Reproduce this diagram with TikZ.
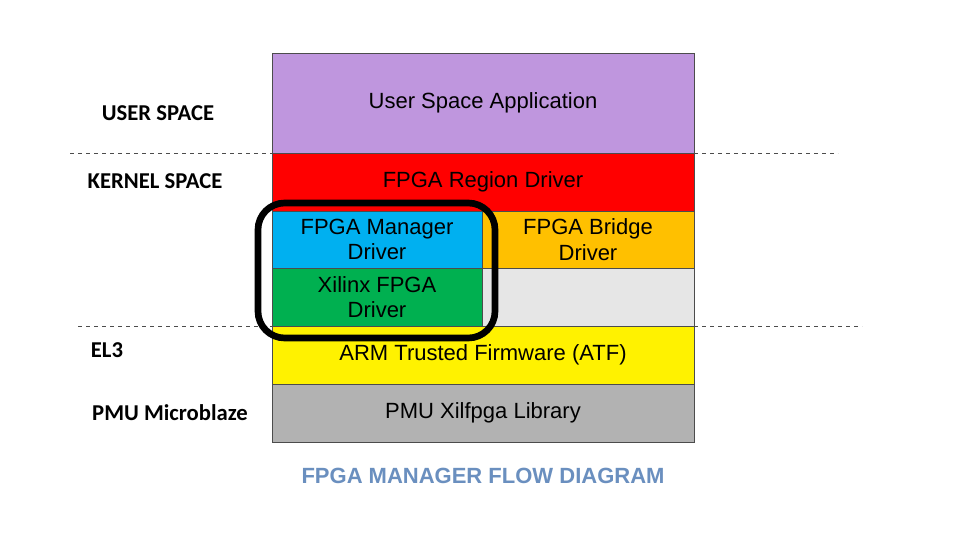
\documentclass[tikz,border=0pt]{standalone}
\usepackage{fontspec}
\setmainfont{Liberation Sans}
\newfontfamily\lblfont{Carlito}
\begin{document}
\begin{tikzpicture}[x=0.75pt,y=-0.75pt,
  blk/.style={draw=black!70,line width=0.6pt,inner sep=0,align=center,font=\fontsize{16.5}{19}\selectfont},
  lbl/.style={font=\lblfont\bfseries\fontsize{17}{20}\selectfont},
  sep/.style={dashed,line width=0.6pt,black!70}]
\useasboundingbox (0,0) rectangle (979,559);
\fill[white] (0,0) rectangle (979,559);
\path[blk,fill={rgb,255:red,191;green,150;blue,222}] (272,53) rectangle node (usr) {User Space Application} (694,153);
\path[blk,fill=red] (272,153) rectangle node (reg) {FPGA Region Driver} (694,211);
\path[blk,fill={rgb,255:red,0;green,176;blue,240}] (272,211) rectangle node (mgr) {FPGA Manager\\Driver} (482,268);
\path[blk,fill={rgb,255:red,255;green,192;blue,0}] (482,211) rectangle node (brg) {FPGA Bridge\\Driver} (694,268);
\path[blk,fill={rgb,255:red,0;green,176;blue,80}] (272,268) rectangle node (xil) {Xilinx FPGA\\Driver} (482,326);
\path[blk,fill={rgb,255:red,230;green,230;blue,230}] (482,268) rectangle node (gry) {} (694,326);
\path[blk,fill=yellow] (272,326) rectangle node (atf) {ARM Trusted Firmware (ATF)} (694,384);
\path[blk,fill={rgb,255:red,178;green,178;blue,178}] (272,384) rectangle node (pmu) {PMU Xilfpga Library} (694,442);
\draw[sep] (70,153) -- (838,153);
\draw[sep] (78,326) -- (862,326);
\draw[line width=5pt,rounded corners=20] (258,203) rectangle (495,338);
\node[lbl] (l1) at (158,113) {USER SPACE};
\node[lbl] (l2) at (155,181) {KERNEL SPACE};
\node[lbl] (l3) at (107,350) {EL3};
\node[lbl] (l4) at (170,413) {PMU Microblaze};
\node[font=\bfseries\fontsize{16.5}{20}\selectfont,text={rgb,255:red,106;green,143;blue,191}] (t) at (483,476) {FPGA MANAGER FLOW DIAGRAM};
\end{tikzpicture}
\end{document}
